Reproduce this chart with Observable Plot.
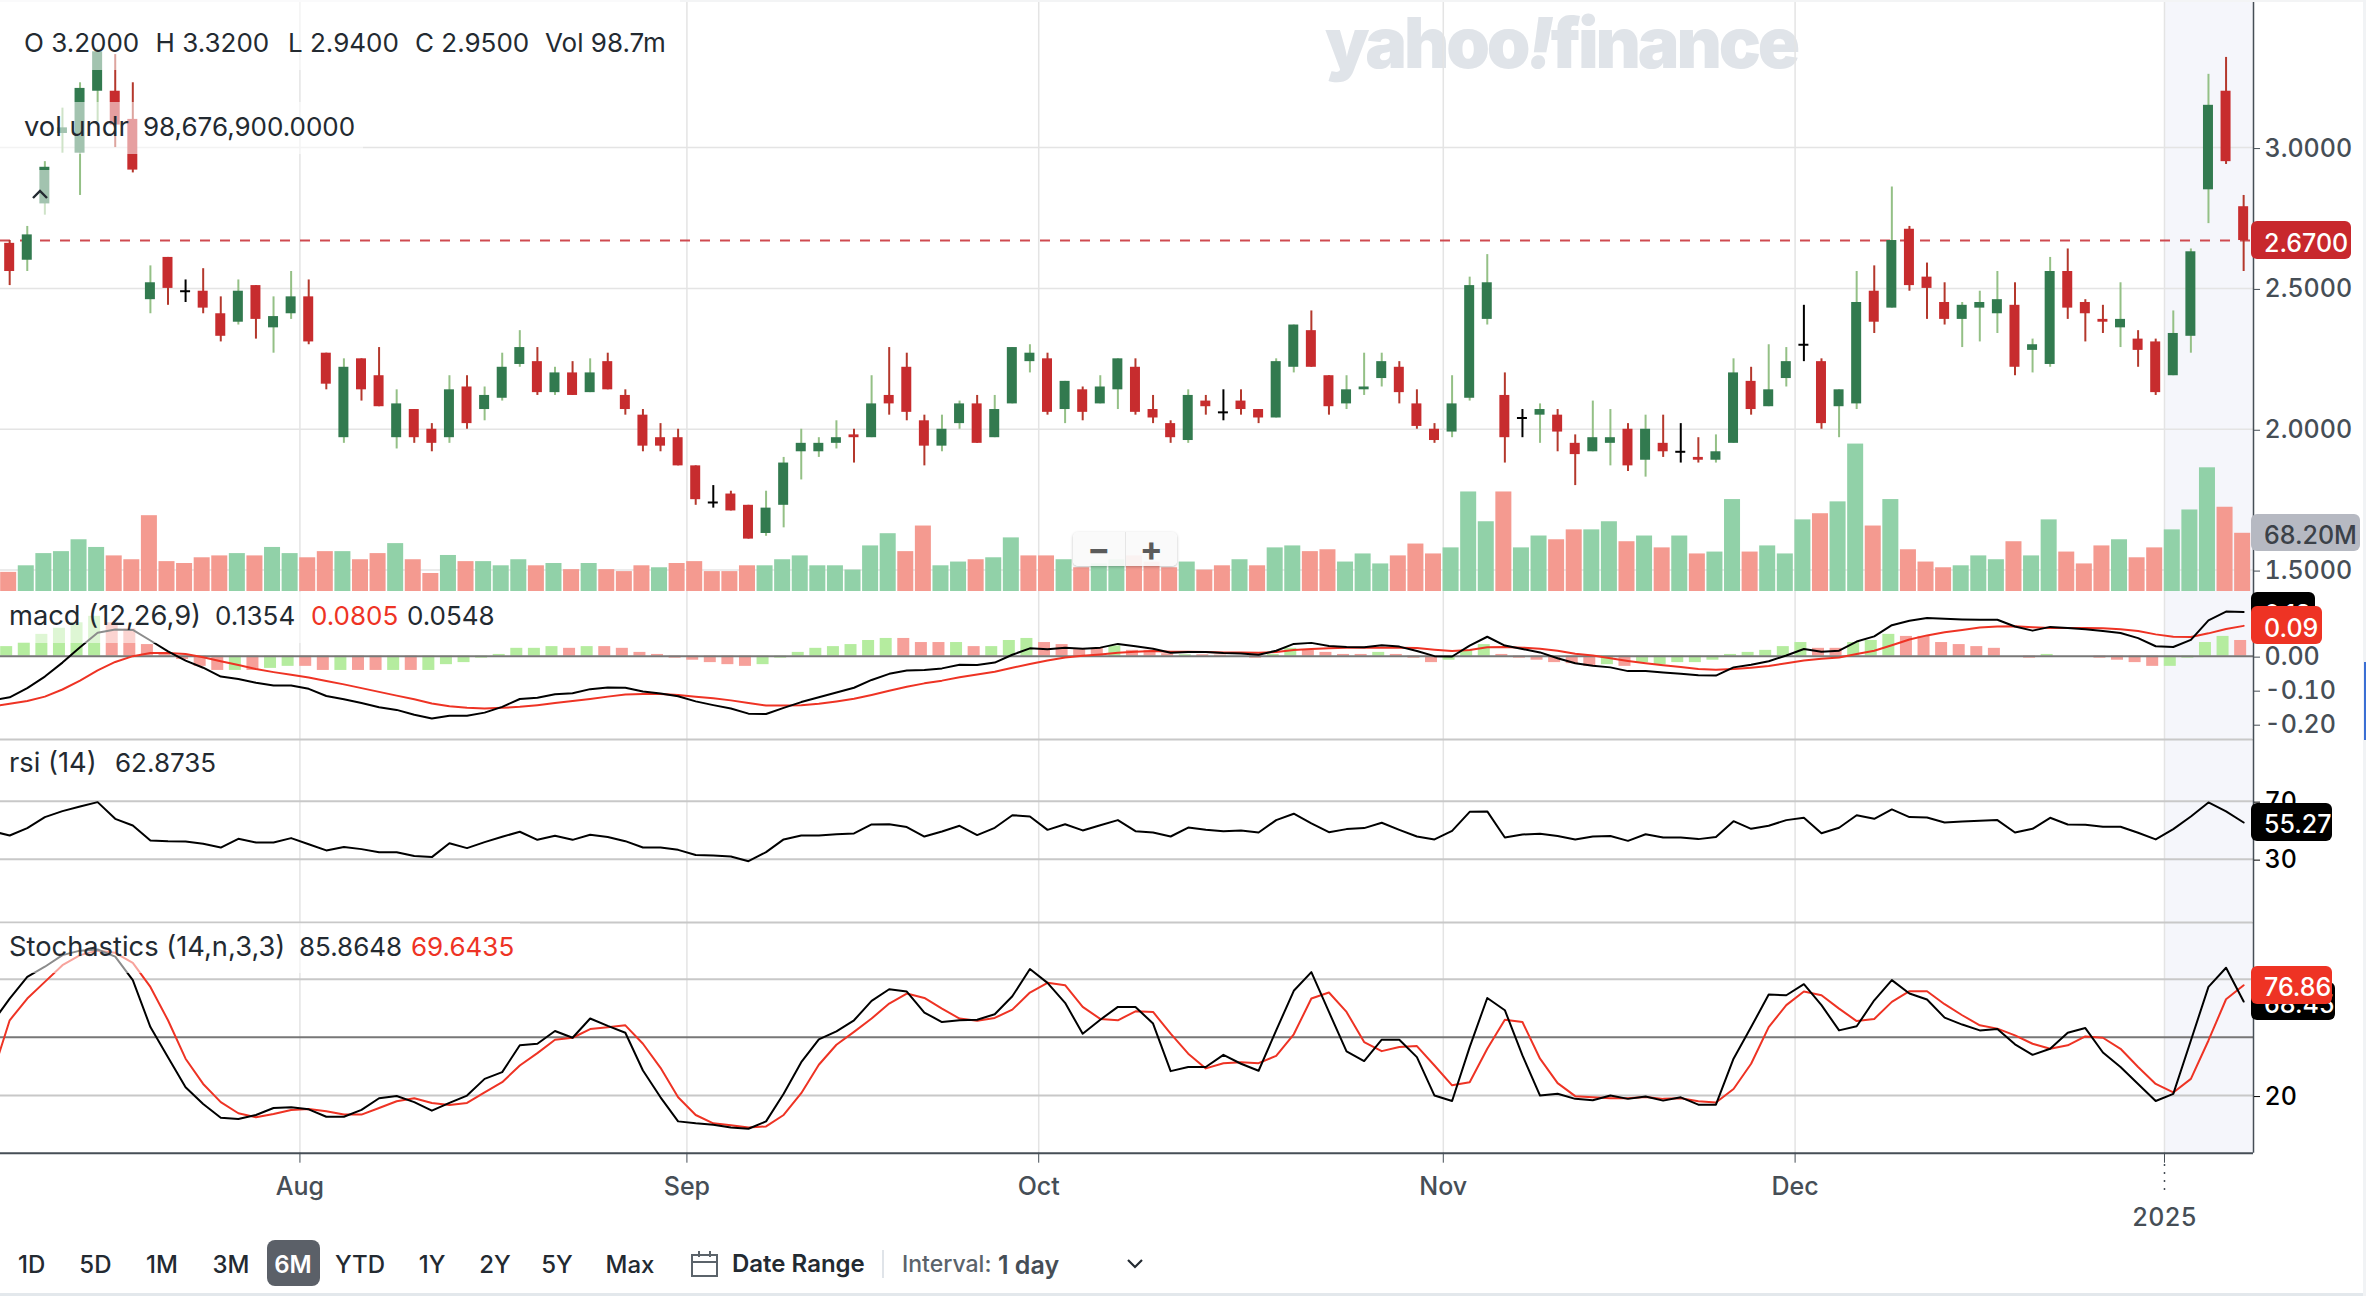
<!DOCTYPE html>
<html>
<head>
<meta charset="utf-8">
<script src="https://cdn.jsdelivr.net/npm/d3@7"></script>
<script src="https://cdn.jsdelivr.net/npm/@observablehq/plot@0.6"></script>
<style>
html,body{margin:0;padding:0;background:#fff;width:2366px;height:1296px;overflow:hidden}
body{font-family:Inter,Roboto,sans-serif;position:relative}
.abs{position:absolute;white-space:nowrap}
.pane{position:absolute;left:0}
.pane svg{display:block}
.t{position:absolute;white-space:nowrap;font-size:26px;color:#232a31;line-height:30px;z-index:20;transform:translateY(-50%)}
.veil{position:absolute;background:rgba(255,255,255,.55);z-index:15}
.tag{position:absolute;z-index:25;border-radius:6px;font-size:25px;line-height:1;display:flex;align-items:center;padding:6px 0 0 13px;box-sizing:border-box;color:#fff;font-weight:500}
.btn{position:absolute;top:1264px;transform:translate(-50%,-50%);font-size:24px;font-weight:500;color:#232a31;white-space:nowrap}
</style>
</head>
<body>
<div id="root"></div>
<script>
const opens=[2.66,2.60,2.80,3.05,2.98,3.20,3.20,3.10,2.46,2.61,2.49,2.49,2.41,2.38,2.51,2.36,2.41,2.47,2.27,1.97,2.25,2.19,1.97,2.07,2.00,1.97,2.15,2.07,2.11,2.23,2.24,2.13,2.20,2.13,2.24,2.12,2.05,1.97,1.97,1.87,1.74,1.77,1.73,1.63,1.73,1.92,1.92,1.95,1.98,1.97,2.12,2.22,2.03,1.94,2.02,2.09,1.97,2.09,2.24,2.25,2.07,2.14,2.09,2.14,2.22,2.07,2.02,1.96,2.10,2.06,2.10,2.07,2.04,2.22,2.35,2.19,2.09,2.14,2.18,2.22,2.09,2.00,1.99,2.11,2.39,2.12,2.04,2.05,2.05,1.95,1.92,1.95,2.00,1.89,1.95,1.92,1.90,1.89,1.95,2.17,2.08,2.18,2.30,2.24,2.08,2.09,2.49,2.43,2.71,2.54,2.45,2.39,2.43,2.41,2.44,2.28,2.23,2.56,2.45,2.39,2.36,2.32,2.31,2.19,2.33,2.85,3.20,2.79];
const highs=[2.67,2.72,2.95,3.14,3.23,3.35,3.33,3.23,2.58,2.61,2.53,2.57,2.47,2.53,2.51,2.47,2.56,2.53,2.27,2.25,2.25,2.29,2.14,2.07,2.02,2.19,2.19,2.15,2.27,2.35,2.29,2.22,2.24,2.25,2.27,2.14,2.07,2.02,2.00,1.87,1.80,1.78,1.73,1.78,1.90,2.00,1.97,2.03,2.00,2.19,2.29,2.27,2.05,2.05,2.10,2.12,2.12,2.29,2.30,2.27,2.17,2.15,2.19,2.25,2.25,2.12,2.03,2.14,2.12,2.14,2.14,2.07,2.25,2.37,2.42,2.19,2.19,2.27,2.27,2.24,2.14,2.02,2.19,2.54,2.62,2.20,2.07,2.09,2.07,1.98,2.10,2.07,2.02,2.05,2.05,2.02,1.97,1.98,2.25,2.22,2.30,2.29,2.44,2.25,2.14,2.56,2.58,2.86,2.72,2.59,2.52,2.45,2.49,2.56,2.52,2.32,2.61,2.64,2.46,2.44,2.52,2.35,2.32,2.42,2.64,3.26,3.32,2.83];
const lows=[2.51,2.56,2.76,2.98,2.83,3.09,3.00,2.91,2.41,2.44,2.45,2.41,2.31,2.37,2.32,2.27,2.39,2.30,2.14,1.95,2.10,2.08,1.93,1.95,1.92,1.95,2.00,2.03,2.10,2.22,2.12,2.12,2.12,2.13,2.14,2.05,1.92,1.92,1.87,1.73,1.72,1.71,1.61,1.62,1.65,1.82,1.90,1.93,1.88,1.97,2.05,2.03,1.87,1.92,2.00,1.95,1.97,2.09,2.20,2.05,2.02,2.03,2.09,2.07,2.05,2.02,1.95,1.95,2.05,2.03,2.05,2.02,2.04,2.20,2.22,2.05,2.07,2.12,2.15,2.09,2.00,1.95,1.97,2.10,2.37,1.88,1.97,1.95,1.92,1.80,1.92,1.87,1.85,1.83,1.90,1.88,1.88,1.88,1.95,2.05,2.08,2.15,2.24,2.00,1.97,2.07,2.34,2.43,2.49,2.39,2.37,2.29,2.31,2.34,2.19,2.20,2.22,2.39,2.31,2.34,2.29,2.22,2.12,2.19,2.27,2.73,2.94,2.56];
const closes=[2.56,2.69,2.93,3.07,3.21,3.34,3.08,2.92,2.52,2.50,2.49,2.43,2.33,2.49,2.39,2.40,2.47,2.31,2.16,2.22,2.14,2.08,2.09,1.97,1.95,2.14,2.02,2.12,2.22,2.29,2.13,2.20,2.12,2.20,2.14,2.07,1.94,1.94,1.87,1.75,1.74,1.71,1.61,1.72,1.88,1.95,1.95,1.97,1.97,2.09,2.09,2.06,1.94,2.00,2.09,1.95,2.07,2.29,2.27,2.06,2.17,2.06,2.15,2.25,2.06,2.04,1.97,2.12,2.08,2.06,2.07,2.04,2.24,2.37,2.22,2.08,2.14,2.15,2.24,2.13,2.01,1.96,2.09,2.51,2.52,1.97,2.04,2.07,1.99,1.91,1.97,1.97,1.87,2.00,1.92,1.92,1.89,1.92,2.20,2.07,2.14,2.24,2.30,2.02,2.14,2.45,2.38,2.67,2.51,2.50,2.39,2.44,2.45,2.46,2.22,2.30,2.56,2.43,2.41,2.38,2.39,2.28,2.13,2.34,2.63,3.15,2.95,2.67];
const volumes=[22.4,30.1,44.4,46.7,60.6,51.6,41.7,37.2,88.8,35,32.8,39.5,41.7,44.4,41.7,51.6,44.4,39.5,46.7,46.7,37.2,44.4,56.1,37.2,21.1,42.2,35,35,30.1,37.2,30.1,32.8,25.6,32.8,25.6,23.3,30.1,27.8,32.8,35,23.3,23.3,30.1,30.1,37.2,41.7,30.1,30.1,25.1,53.4,67.7,46.7,76.7,30.1,34.5,37.2,39.5,62.8,41.7,41.7,37.2,27.8,32.3,37.2,41.7,34.5,27.8,34.5,25.1,30.1,37.2,30.1,51.1,53.4,46.7,48.9,34.5,44,32.3,41.7,55.6,44,51.1,116.6,81.7,116.6,51.1,65,60.6,72.2,72.2,81.7,58.3,65,51.1,65,44,46.2,107.7,46.2,53.4,44,83.9,91.1,105,172.7,76.7,107.7,48.9,34.5,27.8,30.1,41.7,37.2,58.3,41.7,83.9,46.2,32.3,53.4,60.6,39.5,51.1,72.2,95.5,144.9,98.7,68.2];
const volumeTones=("rgggggrrrr"+"rrrgrggrrg"+"rrgrrgrggg"+"rgrgrrrgrr"+"rrrggggggg"+"grrggrggrr"+"grggrrrgrr"+"grggrrgggr"+"rrgggrggrr"+"ggrgrgrggr"+"gggrggrgrr"+"rgggrggrrr"+"grrgggrr").split("");
// the line series start one session before the first candle, off the left edge
const macdLine=[-0.130,-0.121,-0.094,-0.060,-0.019,0.026,0.069,0.078,0.077,0.046,0.014,-0.013,-0.034,-0.060,-0.067,-0.078,-0.086,-0.086,-0.096,-0.117,-0.127,-0.138,-0.150,-0.158,-0.172,-0.183,-0.175,-0.175,-0.166,-0.149,-0.126,-0.122,-0.112,-0.109,-0.097,-0.092,-0.093,-0.104,-0.110,-0.118,-0.133,-0.144,-0.154,-0.169,-0.170,-0.152,-0.135,-0.121,-0.107,-0.093,-0.070,-0.052,-0.042,-0.041,-0.036,-0.025,-0.026,-0.019,0.004,0.023,0.020,0.025,0.022,0.025,0.036,0.029,0.022,0.010,0.012,0.012,0.009,0.008,0.004,0.016,0.036,0.039,0.030,0.027,0.026,0.032,0.028,0.015,0.000,-0.001,0.031,0.057,0.031,0.021,0.011,-0.006,-0.021,-0.028,-0.033,-0.044,-0.044,-0.048,-0.052,-0.056,-0.057,-0.033,-0.025,-0.015,0.002,0.021,0.013,0.016,0.043,0.058,0.091,0.104,0.112,0.110,0.108,0.107,0.107,0.087,0.075,0.086,0.083,0.079,0.074,0.068,0.053,0.029,0.027,0.048,0.105,0.131,0.130];
const macdSignal=[-0.148,-0.140,-0.132,-0.119,-0.098,-0.072,-0.042,-0.017,0.000,0.009,0.009,0.006,-0.003,-0.015,-0.026,-0.038,-0.047,-0.055,-0.063,-0.073,-0.083,-0.094,-0.105,-0.116,-0.127,-0.139,-0.147,-0.152,-0.154,-0.152,-0.149,-0.144,-0.138,-0.132,-0.126,-0.119,-0.113,-0.111,-0.111,-0.114,-0.119,-0.124,-0.130,-0.138,-0.145,-0.145,-0.144,-0.140,-0.133,-0.125,-0.114,-0.102,-0.090,-0.080,-0.072,-0.062,-0.054,-0.046,-0.034,-0.023,-0.013,-0.004,0.001,0.005,0.010,0.013,0.015,0.013,0.013,0.012,0.011,0.011,0.010,0.012,0.018,0.021,0.023,0.025,0.025,0.025,0.025,0.024,0.019,0.015,0.018,0.026,0.027,0.025,0.022,0.016,0.007,0.002,-0.006,-0.014,-0.021,-0.027,-0.032,-0.038,-0.040,-0.038,-0.034,-0.029,-0.021,-0.013,-0.008,-0.004,0.006,0.016,0.032,0.049,0.061,0.070,0.077,0.084,0.087,0.088,0.085,0.083,0.083,0.083,0.082,0.079,0.074,0.064,0.057,0.056,0.067,0.080,0.089];
const macdHist=[.028,.039,.064,.082,.098,.117,.098,.080,.034,.010,-.010,-.030,-.042,-.042,-.042,-.036,-.030,-.030,-.042,-.042,-.042,-.042,-.042,-.042,-.042,-.025,-.019,-.006,.005,.023,.023,.028,.023,.028,.028,.023,.011,.005,-.006,-.012,-.019,-.025,-.030,-.025,-.006,.011,.023,.028,.034,.046,.052,.052,.040,.040,.040,.028,.028,.046,.052,.040,.034,.019,.023,.030,.017,.017,.007,.004,.004,.003,0,-.006,.005,.023,.017,.011,.005,.005,.011,.005,-.006,-.019,-.012,.017,.034,.005,-.006,-.012,-.019,-.022,-.030,-.025,-.030,-.019,-.025,-.019,-.019,-.012,.005,.011,.017,.028,.040,.023,.023,.040,.046,.064,.058,.058,.040,.034,.028,.023,0,-.006,.005,0,0,-.006,-.012,-.019,-.030,-.030,-.006,.040,.058,.046];
const histTones=("ggggggrrrr"+"rrrgrggrrg"+"rrgrgggggg"+"ggrgrrrrrr"+"rrrggggggg"+"grrrgrgggr"+"rrrgrrrgrr"+"rrggrrrrgr"+"rrgggrrrrr"+"rgrggggggg"+"gggrrgggrr"+"rrrrrrgrrr"+"rrrggggr").split("");
const rsi=[49.3,46.3,51.4,59.0,63.1,66.3,69.3,57.8,53.2,42.9,42.4,42.2,40.6,38.0,44.0,41.5,41.5,44.5,40.3,36.0,38.3,36.9,34.8,34.8,32.1,31.4,41.0,37.6,41.7,45.4,48.9,43.3,46.1,43.3,46.8,45.2,42.4,38.0,38.0,36.4,32.8,32.5,31.8,28.6,34.8,43.6,46.3,46.3,47.2,47.7,53.9,54.1,52.1,45.6,49.1,53.0,46.6,51.6,60.3,59.4,50.2,54.1,49.8,53.4,56.9,49.3,48.4,45.6,51.8,50.2,49.3,49.8,48.4,56.9,61.3,54.6,48.6,50.7,51.4,55.1,50.2,45.6,43.6,49.5,62.6,62.9,44.9,47.0,47.5,45.9,43.6,45.6,45.9,42.6,47.2,44.9,44.9,43.8,45.2,56.2,50.9,53.0,56.9,58.5,47.9,51.6,60.3,57.8,64.3,59.0,58.7,55.3,56.0,56.4,56.9,48.4,50.9,58.5,53.9,53.7,52.3,52.3,48.2,43.6,50.7,59.4,69.1,62.87,55.27];
const stochK=[57.4,70.0,81.2,86.4,92.4,94.7,95.3,91.6,79.5,55.3,39.8,24.3,15.7,8.6,7.9,10.0,13.6,14.0,12.9,9.1,9.1,12.6,18.6,19.8,16.6,12.2,16.2,20.0,28.6,32.1,45.9,46.7,53.3,49.8,59.7,55.9,52.4,32.9,19.1,6.7,5.7,5.0,3.6,2.9,6.7,20.9,37.2,49.0,53.1,58.8,68.8,74.8,73.6,62.8,57.9,58.8,59.1,61.9,71.2,85.2,78.1,67.8,51.9,59.1,65.7,65.7,57.1,32.6,34.7,34.7,41.0,36.4,32.8,53.6,74.0,83.6,63.1,42.8,37.8,48.8,48.8,39.8,20.0,17.2,45.0,70.3,64.0,40.7,20.0,20.9,18.3,17.6,20.0,18.3,19.5,17.4,19.1,15.3,15.3,39.0,55.3,72.1,71.7,77.4,66.6,53.6,55.7,69.1,79.5,72.6,69.5,60.2,56.6,53.6,54.3,46.4,41.0,44.1,52.4,54.8,42.2,34.7,26.0,17.2,20.9,48.4,76.0,85.86,68.45];
const stochD=[30.3,58.8,70.0,78.6,87.2,92.4,94.7,93.6,88.4,76.0,58.8,39.0,26.0,16.6,10.9,8.8,10.5,12.6,13.1,11.9,10.2,10.2,13.6,17.1,18.6,16.2,15.2,16.2,21.7,26.9,35.5,41.9,48.8,49.8,54.3,55.2,56.2,46.7,34.3,19.1,10.0,5.7,4.7,3.6,4.1,10.0,21.2,35.9,46.2,52.8,59.7,67.4,72.6,70.3,64.8,59.7,58.6,60.0,64.3,73.1,78.1,76.9,65.7,59.5,58.8,63.4,63.1,51.9,41.6,34.0,36.7,37.2,36.7,40.5,51.6,70.0,73.1,63.1,47.6,42.9,45.0,45.5,35.5,25.3,26.9,44.1,59.1,57.9,39.0,26.4,19.7,19.1,18.6,18.6,19.3,18.3,18.6,17.1,16.4,23.4,36.4,55.3,66.6,73.6,71.7,64.8,58.4,59.5,68.3,73.8,73.8,67.1,61.4,56.2,54.5,51.0,46.7,44.1,45.9,50.5,49.8,44.1,34.7,26.0,21.6,28.6,48.4,69.64,76.86];
const monthTicks=[16.5,38.5,58.5,81.5,101.5];
const monthLabels=["Aug","Sep","Oct","Nov","Dec"];
const yearTick=122.5, yearLabel="2025";
const priceTicks=[3,2.5,2,1.5], macdTicks=[0.1,0,-0.1,-0.2], rsiTicks=[70,30], stochTicks=[80,20], stochMid=50;
const lastPriceLevel=2.67;
const rangeButtons=["1D","5D","1M","3M","6M","YTD","1Y","2Y","5Y","Max"];

const candles=opens.map((o,k)=>({k,o,h:highs[k],l:lows[k],c:closes[k]}));
const vols=volumes.map((v,k)=>({k,v,t:volumeTones[k]}));
const hist=macdHist.map((v,k)=>({k,v,t:histTones[k]}));
const series=a=>a.map((v,i)=>({k:i-1,v}));

const W=2366, RIGHT=113, FONT="Inter, Roboto, sans-serif";
const xDom=[-0.522,127.56];
const GREEN="#327a4f",GREENW="#94c086",RED="#c72c2e",REDW="#b4382c";
const VG="#91d1a8",VR="#f49a90",HG="#b5ec9f",HR="#f6a09a";
const root=document.getElementById("root");

function pane(top,height,yDom,marks,marginBottom=0){
  const p=Plot.plot({width:W,height,marginLeft:0,marginRight:RIGHT,marginTop:0,marginBottom,
    x:{domain:xDom,axis:null},y:{domain:yDom,axis:null},
    style:{background:"transparent",fontFamily:FONT,overflow:"visible"},marks});
  const d=document.createElement("div");d.className="pane";d.style.top=top+"px";d.appendChild(p);root.appendChild(d);
  return p;
}
const band=yDom=>Plot.rect([0],{x1:yearTick,x2:xDom[1],y1:yDom[0],y2:yDom[1],fill:"#f5f6fb"});
const vgrid=yDom=>Plot.ruleX([...monthTicks,yearTick],{y1:yDom[0],y2:yDom[1],stroke:"#e4e4e4",strokeWidth:1.5});
const spine=yDom=>Plot.ruleX([xDom[1]],{y1:yDom[0],y2:yDom[1],stroke:"#464e56",strokeWidth:1.5});
const yAxis=(ticks,fmt,color="#464e56")=>Plot.axisY({anchor:"right",label:null,ticks,tickFormat:fmt,tickSize:6,tickPadding:5,fontSize:25,fontWeight:500,color,textAnchor:"start",dy:1});

// watermark under everything
const wm=document.createElement("div");wm.className="abs";
wm.innerHTML='yahoo<span style="font-style:italic">!</span>finance';
wm.style.cssText+="left:1325px;top:0px;font:900 70px/86px Inter,sans-serif;color:#e0e4e9;letter-spacing:-3.2px";
root.appendChild(wm);

// price pane
const priceDom=[1.424,3.515];
const up=candles.filter(d=>d.c>d.o), dn=candles.filter(d=>d.c<d.o), doji=candles.filter(d=>d.c===d.o);
const bw=0.284;
const priceChart=pane(2,589,priceDom,[
  band(priceDom),
  Plot.ruleY(priceTicks,{stroke:"#e4e4e4",strokeWidth:1.5}),
  vgrid(priceDom),
  Plot.ruleY([lastPriceLevel],{stroke:"#cf4a50",strokeWidth:2,strokeDasharray:"10 10"}),
  Plot.ruleX(up,{x:"k",y1:"l",y2:"h",stroke:GREENW,strokeWidth:2}),
  Plot.ruleX(dn,{x:"k",y1:"l",y2:"h",stroke:REDW,strokeWidth:2}),
  Plot.ruleX(doji,{x:"k",y1:"l",y2:"h",stroke:"#000",strokeWidth:2}),
  Plot.rect(up,{x1:d=>d.k-bw,x2:d=>d.k+bw,y1:"o",y2:"c",fill:GREEN}),
  Plot.rect(dn,{x1:d=>d.k-bw,x2:d=>d.k+bw,y1:"o",y2:"c",fill:RED}),
  Plot.ruleY(doji,{y:"o",x1:d=>d.k-bw,x2:d=>d.k+bw,stroke:"#000",strokeWidth:2}),
  spine(priceDom),
  yAxis(priceTicks,d=>d.toFixed(4))
]);
// volume overlay shares the price pane's area
const volDom=[0,690];
const vb=0.455;
const volChart=pane(2,589,volDom,[
  Plot.rect(vols.filter(d=>d.t==="g"),{x1:d=>d.k-vb,x2:d=>d.k+vb,y1:0,y2:"v",fill:VG,dx:-1}),
  Plot.rect(vols.filter(d=>d.t==="r"),{x1:d=>d.k-vb,x2:d=>d.k+vb,y1:0,y2:"v",fill:VR,dx:-1})
]);
// macd pane
const macdDom=[-0.245,0.19];
const hb=0.341;
const macdChart=pane(591,148,macdDom,[
  band(macdDom),vgrid(macdDom),
  Plot.rect(hist.filter(d=>d.t==="g"),{x1:d=>d.k-hb,x2:d=>d.k+hb,y1:0,y2:"v",fill:HG,dx:-3}),
  Plot.rect(hist.filter(d=>d.t==="r"),{x1:d=>d.k-hb,x2:d=>d.k+hb,y1:0,y2:"v",fill:HR,dx:-3}),
  Plot.ruleY([0],{stroke:"#777",strokeWidth:2}),
  Plot.line(series(macdSignal),{x:"k",y:"v",stroke:"#ee3324",strokeWidth:2,clip:true}),
  Plot.line(series(macdLine),{x:"k",y:"v",stroke:"#000",strokeWidth:2,clip:true}),
  spine(macdDom),
  yAxis(macdTicks,d=>d.toFixed(2))
]);
// rsi pane
const rsiDom=[-13.7,112.5];
const rsiChart=pane(739,183,rsiDom,[
  band(rsiDom),vgrid(rsiDom),
  Plot.ruleY(rsiTicks,{stroke:"#c8c8c8",strokeWidth:2}),
  Plot.ruleY([rsiDom[1]],{stroke:"#c8c8c8",strokeWidth:2}),
  Plot.line(series(rsi),{x:"k",y:"v",stroke:"#000",strokeWidth:2,clip:true}),
  spine(rsiDom),
  yAxis(rsiTicks,d=>String(d),"#000")
]);
// stochastics pane with the time axis
const stDom=[-9.7,109.2];
const stChart=pane(922,308,stDom,[
  band(stDom),vgrid(stDom),
  Plot.ruleY([stDom[1]],{stroke:"#c8c8c8",strokeWidth:2}),
  Plot.ruleY(stochTicks,{stroke:"#c8c8c8",strokeWidth:2}),
  Plot.ruleY([stochMid],{stroke:"#777",strokeWidth:2}),
  Plot.line(series(stochD),{x:"k",y:"v",stroke:"#ee3324",strokeWidth:2,clip:true}),
  Plot.line(series(stochK),{x:"k",y:"v",stroke:"#000",strokeWidth:2,clip:true}),
  Plot.ruleY([stDom[0]],{stroke:"#464e56",strokeWidth:2}),
  spine(stDom),
  yAxis(stochTicks,d=>String(d),"#000"),
  Plot.axisX({label:null,ticks:monthTicks,tickFormat:d=>monthLabels[monthTicks.indexOf(d)],tickSize:10,tickPadding:14,fontSize:25,fontWeight:500,color:"#464e56",anchor:"bottom"}),
  Plot.axisX({label:null,ticks:[yearTick],tickFormat:()=>yearLabel,tickSize:10,tickPadding:45,fontSize:25,fontWeight:500,color:"#464e56",anchor:"bottom"}),
  Plot.ruleX([yearTick],{y1:-15.5,y2:-29,stroke:"#464e56",strokeWidth:1.5,strokeDasharray:"2 6"})
],77.3);

// text helpers
function text(x,y,s,extra=""){const e=document.createElement("div");e.className="t";e.style.cssText=`left:${x}px;top:${y}px;${extra}`;e.textContent=s;document.body.appendChild(e);return e;}
function veil(l,t,w,h){const e=document.createElement("div");e.className="veil";e.style.cssText=`left:${l}px;top:${t}px;width:${w}px;height:${h}px`;document.body.appendChild(e);}
function tag(s,cy,w,h,bg,color,z=25){const e=document.createElement("div");e.className="tag";e.style.cssText=`left:2251px;top:${cy-h/2}px;width:${w}px;height:${h}px;background:${bg};color:${color};z-index:${z}`;e.textContent=s;document.body.appendChild(e);}

veil(0,0,680,70);veil(0,102,363,52);veil(26,170,36,45);veil(0,592,500,51);veil(0,923,520,50);
const nameFont="font-size:27.3px;";
// header
text(24,43,"O 3.2000");text(155.6,43,"H 3.3200");text(288,43,"L 2.9400");text(415,43,"C 2.9500");text(545,43,"Vol 98.7m");
text(24,127,"vol undr",nameFont);text(143,127,"98,676,900.0000");
text(9,616,"macd (12,26,9)",nameFont);text(215,616,"0.1354");text(311,616,"0.0805","color:#ee3324");text(407,616,"0.0548");
text(9,763,"rsi (14)",nameFont);text(115,763,"62.8735");
text(9,947,"Stochastics (14,n,3,3)",nameFont);text(299,947,"85.8648");text(411,947,"69.6435","color:#ee3324");

// price tags, placed from the scales
tag("2.6700",2+priceChart.scale("y").apply(lastPriceLevel),100,38,"#c8282d","#fff");
tag("68.20M",2+volChart.scale("y").apply(volumes[127]),109,37,"#b6b9c2","#3b4148");
tag("0.13",591+macdChart.scale("y").apply(macdLine[128]),64,38,"#000","#fff",24);
tag("0.09",591+macdChart.scale("y").apply(macdSignal[128]),71,38,"#ee3324","#fff");
tag("55.27",739+rsiChart.scale("y").apply(rsi[128]),81,38,"#000","#fff");
tag("68.45",922+stChart.scale("y").apply(stochK[128]),84,38,"#000","#fff",24);
tag("76.86",922+stChart.scale("y").apply(stochD[128]),81,38,"#ee3324","#fff");

// zoom control
const zc=document.createElement("div");zc.className="abs";
zc.style.cssText="left:1073px;top:532px;width:104px;height:34px;z-index:18;display:flex;background:rgba(250,250,250,.92);border-radius:5px;box-shadow:0 1px 3px rgba(0,0,0,.25);font:700 34px/34px Inter,sans-serif;color:#5b5b5b;text-align:center";
zc.innerHTML='<div style="flex:1;border-right:1px solid #e6e6e6">−</div><div style="flex:1">+</div>';
document.body.appendChild(zc);

// caret
const ns='<svg class="abs" style="left:30px;top:186px;z-index:21" width="20" height="14" viewBox="0 0 20 14"><path d="M3 12 L10 5 L17 12" fill="none" stroke="#232a31" stroke-width="2.4"/></svg>';
document.body.insertAdjacentHTML("beforeend",ns);

// toolbar
const btnX=[31.6,95.4,162,231,293,360,432,495,557,630];
document.body.insertAdjacentHTML("beforeend",'<div class="abs" style="left:267px;top:1240px;width:53px;height:46px;background:#5b6068;border-radius:8px"></div>');
rangeButtons.forEach((b,i)=>{const e=document.createElement("div");e.className="btn";e.style.left=btnX[i]+"px";e.textContent=b;if(b==="6M"){e.style.color="#fff";e.style.fontWeight=600;}document.body.appendChild(e);});
document.body.insertAdjacentHTML("beforeend",'<svg class="abs" style="left:690px;top:1250px" width="30" height="28" viewBox="0 0 30 28"><rect x="2" y="5" width="25" height="21" fill="none" stroke="#5b636a" stroke-width="2"/><path d="M2 12H27M9 1V7M20 1V7" stroke="#5b636a" stroke-width="2"/></svg>');
text(732,1264,"Date Range","font-size:24px;font-weight:600;z-index:5");
document.body.insertAdjacentHTML("beforeend",'<div class="abs" style="left:882px;top:1250px;width:1.5px;height:28px;background:#e0e4e9"></div>');
text(902,1264,"Interval:","font-size:23px;font-weight:500;color:#5b636a");
text(998,1265,"1 day","font-size:25px;font-weight:600;color:#464e56");
document.body.insertAdjacentHTML("beforeend",'<svg class="abs" style="left:1126px;top:1258px" width="18" height="12" viewBox="0 0 18 12"><path d="M2 2 L9 9 L16 2" fill="none" stroke="#232a31" stroke-width="2.2"/></svg>');
// page edges
document.body.insertAdjacentHTML("beforeend",'<div class="abs" style="left:0;top:0;width:2366px;height:2px;background:#f3f4f5"></div><div class="abs" style="left:0;top:1293px;width:2366px;height:3px;background:#e3e8ec"></div><div class="abs" style="left:2363px;top:0;width:3px;height:1296px;background:#f1f3f5"></div><div class="abs" style="left:2364px;top:662px;width:2px;height:78px;background:#3b6fd4"></div>');
</script>
</body>
</html>
